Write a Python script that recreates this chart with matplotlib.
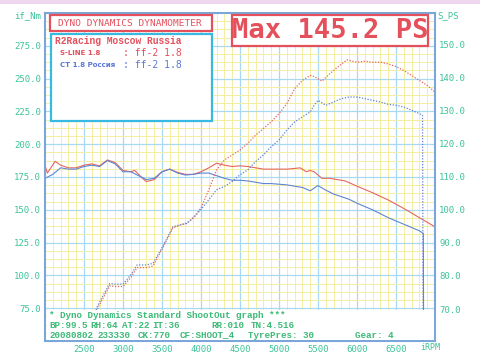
import matplotlib
matplotlib.use('Agg')
import matplotlib.pyplot as plt
import matplotlib.patches as mpatches

# ---------------- data ----------------
red_t_rpm = [2000, 2030, 2130, 2200, 2300, 2400, 2500, 2600, 2700, 2800, 2900, 3000, 3100, 3150,
             3250, 3300, 3400, 3500, 3600, 3700, 3800, 3900, 4000, 4100, 4200, 4300, 4400, 4500,
             4600, 4700, 4800, 4900, 5000, 5100, 5200, 5270, 5350, 5400, 5450, 5550, 5650, 5750,
             5850, 6000, 6200, 6400, 6600, 6800, 7000]
red_torque = [184, 178, 187, 184, 182, 182, 184, 185, 183.5, 188, 186, 180, 179, 180,
              174, 171.5, 173, 179, 181, 178.5, 177, 177, 179, 182, 185.5, 184, 183, 183.5,
              183, 182, 181, 181, 181, 181, 181.5, 182, 179, 180, 179, 174, 174, 173,
              172, 168, 163, 157.5, 151, 144, 137]

blue_t_rpm = [2000, 2100, 2200, 2300, 2400, 2500, 2600, 2700, 2800, 2900, 3000, 3100, 3200,
              3300, 3400, 3500, 3600, 3700, 3800, 3900, 4000, 4100, 4200, 4300, 4400, 4500,
              4600, 4700, 4800, 4900, 5000, 5100, 5200, 5300, 5400, 5500, 5600, 5700, 5800,
              5900, 6000, 6200, 6400, 6600, 6800, 6850, 6855]
blue_torque = [174, 177, 182, 181, 181, 183, 184, 183, 187.5, 185, 179, 179, 176,
               173, 174, 179, 181, 178, 176.5, 177, 178, 178, 176, 174, 172.5, 172.5,
               172, 171, 170, 170, 169.5, 169, 168, 167, 164.5, 168.5, 165, 162, 160,
               158, 155, 150, 144, 139, 134, 132, 40]

red_p_rpm = [2600, 2670, 2750, 2830, 2900, 3000, 3100, 3180, 3300, 3385, 3500, 3640, 3750,
             3820, 3900, 4000, 4100, 4200, 4300, 4400, 4500, 4600, 4700, 4800, 4900, 5000,
             5100, 5200, 5300, 5400, 5450, 5550, 5650, 5750, 5870, 6000, 6100, 6200, 6300,
             6400, 6500, 6600, 6700, 6800, 6900, 7000]
red_power = [66, 70, 73.5, 77, 76.8, 76.8, 79.5, 82.5, 82.5, 83, 88, 94.5, 95.5,
             96, 97.5, 100.5, 106, 112, 115, 116.5, 118, 120, 122.5, 124.5, 126.5, 129,
             132, 136.5, 139, 140.5, 140.2, 138.8, 141, 143, 145.2, 144.5, 144.8, 144.5, 144.5,
             144, 143.2, 142, 140.5, 139, 137.5, 135.5]

blue_p_rpm = [2600, 2670, 2750, 2830, 2900, 3000, 3100, 3180, 3300, 3385, 3500, 3640, 3750,
              3820, 3900, 4000, 4100, 4200, 4300, 4400, 4500, 4600, 4700, 4800, 4900, 5000,
              5100, 5200, 5300, 5400, 5450, 5500, 5600, 5700, 5800, 5900, 6000, 6100, 6200,
              6300, 6400, 6500, 6600, 6700, 6800, 6840, 6850]
blue_power = [66.5, 70.7, 74.3, 77.7, 77.5, 77.5, 80.3, 83.3, 83.3, 83.8, 88.5, 94.8, 95.5,
              95.8, 97.5, 100, 103, 106, 107, 108.5, 110.5, 112, 114.5, 116.5, 119, 121,
              124, 126.5, 128, 129.5, 131.5, 133, 131.5, 132.5, 133.5, 134, 134, 133.5, 133,
              132.5, 131.8, 131.5, 131, 130, 129, 128.5, 50]

x_ticks = [2500, 3000, 3500, 4000, 4500, 5000, 5500, 6000, 6500]
nm_ticks = [75, 100, 125, 150, 175, 200, 225, 250, 275]
ps_ticks = [70, 80, 90, 100, 110, 120, 130, 140, 150]

# ---------------- figure ----------------
W, H = 480, 363
fig = plt.figure(figsize=(4.8, 3.63), dpi=100)
fig.patch.set_facecolor('white')

def fx(px):
    return px / W

def fy(py):
    return 1 - py / H

X0, X1, Y0, Y1 = 45, 435, 13, 341
ax = fig.add_axes([fx(X0), fy(Y1), (X1 - X0) / W, (Y1 - Y0) / H])
NM_LO, NM_HI = 50.85, 298.4
ax.set_xlim(2000, 7000)
ax.set_ylim(NM_LO, NM_HI)
ax.set_facecolor('white')

ax.set_xticks(x_ticks)
ax.set_xticks(range(2000, 7001, 100), minor=True)
ax.set_yticks(nm_ticks)
ax.set_yticks([50 + 6.25 * i for i in range(41)], minor=True)
ax.set_axisbelow(True)
ax.grid(which='minor', color='#f3eea2', lw=0.7)
ax.grid(which='major', color='#a9d9f0', lw=0.9)

tick_col = '#3cc49a'
mono = 'DejaVu Sans Mono'
ax.set_xticklabels([str(v) for v in x_ticks], fontfamily=mono, fontsize=6.5, color=tick_col)
ax.set_yticklabels(['%.1f' % v for v in nm_ticks], fontfamily=mono, fontsize=6.5, color=tick_col)
ax.tick_params(which='both', length=0)
ax.tick_params(axis='x', pad=3)
ax.tick_params(axis='y', pad=3)

for s in ax.spines.values():
    s.set_color('#7aa6da')
    s.set_linewidth(1.5)

red = '#e5675e'
blue = '#5f84d4'
dots = (0, (1.0, 1.3))
ax.plot(red_t_rpm, red_torque, color=red, lw=0.8)
ax.plot(blue_t_rpm, blue_torque, color=blue, lw=0.8)

ax2 = ax.twinx()
ax2.set_ylim(0.4 * NM_LO + 40, 0.4 * NM_HI + 40)
ax2.set_yticks(ps_ticks)
ax2.set_yticklabels(['%.1f' % v for v in ps_ticks], fontfamily=mono, fontsize=6.5, color=tick_col)
ax2.tick_params(length=0, pad=3)
for s in ax2.spines.values():
    s.set_visible(False)
ax2.plot(red_p_rpm, red_power, color=red, lw=0.9, ls=dots)
ax2.plot(blue_p_rpm, blue_power, color=blue, lw=0.9, ls=dots)

# axis name labels
fig.text(fx(41), fy(16), 'if_Nm', fontfamily=mono, fontsize=6.5, color=tick_col,
         ha='right', va='center')
fig.text(fx(437), fy(16), 'S_PS', fontfamily=mono, fontsize=6.5, color=tick_col,
         ha='left', va='center')
fig.text(fx(420), fy(348), 'iRPM', fontfamily=mono, fontsize=6, color=tick_col,
         ha='left', va='center')

# top pink band
fig.add_artist(mpatches.Rectangle((0, fy(4)), 1, 4 / H, transform=fig.transFigure,
                                  facecolor='#efd6ef', edgecolor='none', zorder=1))

def box(x0, y0, x1, y1, ec, lw=1.6):
    fig.add_artist(mpatches.Rectangle((fx(x0), fy(y1)), (x1 - x0) / W, (y1 - y0) / H,
                                      transform=fig.transFigure, facecolor='white',
                                      edgecolor=ec, lw=lw, zorder=5))

def txt(x, y, s, col, size, **kw):
    kw.setdefault('family', mono)
    fig.text(fx(x), fy(y), s, color=col, fontsize=size, ha=kw.pop('ha', 'left'),
             va='center', zorder=6, **kw)

boxred = '#e4505c'
cyan = '#37b9e2'
serif_mono = 'Liberation Mono'
# info box at bottom
fig.add_artist(mpatches.Rectangle((fx(46.5), fy(340)), (433.5 - 46.5) / W, (340 - 310) / H,
                                  transform=fig.transFigure, facecolor='white',
                                  edgecolor='none', zorder=5))

# title boxes
box(50, 15, 212, 31, boxred)
txt(130, 23, 'DYNO DYNAMICS DYNAMOMETER', boxred, 6.8, ha='center')
box(51, 34, 212, 121, cyan)
txt(55, 41, 'R2Racing Moscow Russia', boxred, 6.9, family=serif_mono, fontweight='bold')
txt(60, 53, 'S-LINE 1.8', boxred, 5.0, family='DejaVu Sans', fontweight='bold')
txt(123, 53, ': ff-2 1.8', boxred, 7.0)
txt(60, 65, 'СТ 1.8 Россия', '#5a78d8', 5.0, family='DejaVu Sans', fontweight='bold')
txt(123, 65, ': ff-2 1.8', '#5a78d8', 7.0)

box(232, 15, 428, 46, boxred)
txt(330, 31, 'Max 145.2 PS', boxred, 19.5, ha='center', family=mono, fontweight='bold')

# info lines
grn = '#3dbb78'
txt(49, 315, '* Dyno Dynamics Standard ShootOut graph ***', grn, 6.7,
    family=serif_mono, fontweight='bold')
for x, s in [(49, 'BP:99.5'), (90, 'RH:64'), (122, 'AT:22'), (152, 'IT:36'),
             (211, 'RR:010'), (251, 'TN:4.516')]:
    txt(x, 325, s, grn, 6.7, family=serif_mono, fontweight='bold')
for x, s in [(49, '20080802'), (98, '233330'), (138, 'CK:770'), (180, 'CF:SHOOT_4'),
             (248, 'TyrePres: 30'), (355, 'Gear: 4')]:
    txt(x, 335, s, grn, 6.7, family=serif_mono, fontweight='bold')

fig.savefig('out.png', dpi=100)
